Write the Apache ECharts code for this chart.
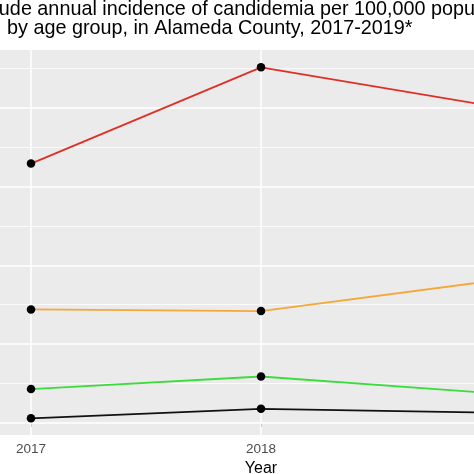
<!doctype html>
<html>
<head>
<meta charset="utf-8">
<script src="https://cdn.jsdelivr.net/npm/echarts@6/dist/echarts.min.js"></script>
<style>
  html, body { margin:0; padding:0; background:#fff; }
  #chart { width:474px; height:474px; }
</style>
</head>
<body>
<div id="chart"></div>
<script>
// crude incidence per 100,000
const years = [2017, 2018, 2019];
const oldest   = [32.9, 45.1, 40.2];   // red
const older    = [14.4, 14.2, 18.0];   // orange
const middle   = [4.3, 5.9, 3.8];      // green
const youngest = [0.6, 1.8, 1.3];      // black

const majorY = [0, 10, 20, 30, 40];
const minorY = [5, 15, 25, 35, 45];
const titleLines = [
  'Crude annual incidence of candidemia per 100,000 population',
  'by age group, in Alameda County, 2017-2019*'
];

const font = '"Liberation Sans", Arial, sans-serif';
const pairs = vals => years.map((y, i) => [y, vals[i]]);

const lineSeries = (name, vals, color) => ({
  name,
  type: 'line',
  data: pairs(vals),
  symbol: 'circle',
  symbolSize: 8.5,
  itemStyle: { color: '#000' },
  lineStyle: { color, width: 1.8 },
  animation: false,
  z: 3
});

const gridLines = [
  ...majorY.map(v => ({ yAxis: v, lineStyle: { width: 1.5 } })),
  ...minorY.map(v => ({ yAxis: v, lineStyle: { width: 0.8 } })),
  ...years.map(v => ({ xAxis: v, lineStyle: { width: 1.5 } }))
];

echarts.init(document.getElementById('chart')).setOption({
  backgroundColor: '#fff',
  animation: false,
  title: titleLines.map((t, i) => ({
    text: t,
    left: i === 0 ? -22 : 7,
    top: i === 0 ? 0 : 18.5,
    padding: 0,
    textStyle: { fontFamily: font, fontSize: 19.8, fontWeight: 'normal', color: '#000' }
  })),
  grid: {
    left: -107, width: 736, top: 50, bottom: 39,
    outerBoundsMode: 'none',
    containLabel: false,
    show: true, backgroundColor: '#ebebeb', borderWidth: 0
  },
  xAxis: {
    type: 'value',
    min: 2016.4, max: 2019.6,
    name: 'Year',
    nameLocation: 'middle',
    nameGap: 22,
    nameTextStyle: { fontFamily: font, fontSize: 16, color: '#000' },
    axisLine: { show: false },
    axisTick: { show: true, length: 4, lineStyle: { color: '#333', width: 1 }, customValues: years },
    axisLabel: { margin: 7, fontFamily: font, fontSize: 13.5, color: '#4d4d4d', customValues: years, formatter: v => String(v) },
    splitLine: { show: false }
  },
  yAxis: {
    type: 'value',
    min: -1.52, max: 47.3,
    axisLine: { show: false },
    axisTick: { show: false },
    axisLabel: { show: false },
    splitLine: { show: false }
  },
  series: [
    {
      name: 'gridlines',
      type: 'line',
      data: [],
      z: 1,
      markLine: {
        z: 1,
        silent: true,
        symbol: 'none',
        animation: false,
        label: { show: false },
        lineStyle: { color: '#fff', type: 'solid' },
        data: gridLines
      }
    },
    lineSeries('<18', youngest, '#111111'),
    lineSeries('18-44', middle, '#3ddc3d'),
    lineSeries('45-64', older, '#f5a83a'),
    lineSeries('65+', oldest, '#dd3027')
  ]
});
</script>
</body>
</html>
